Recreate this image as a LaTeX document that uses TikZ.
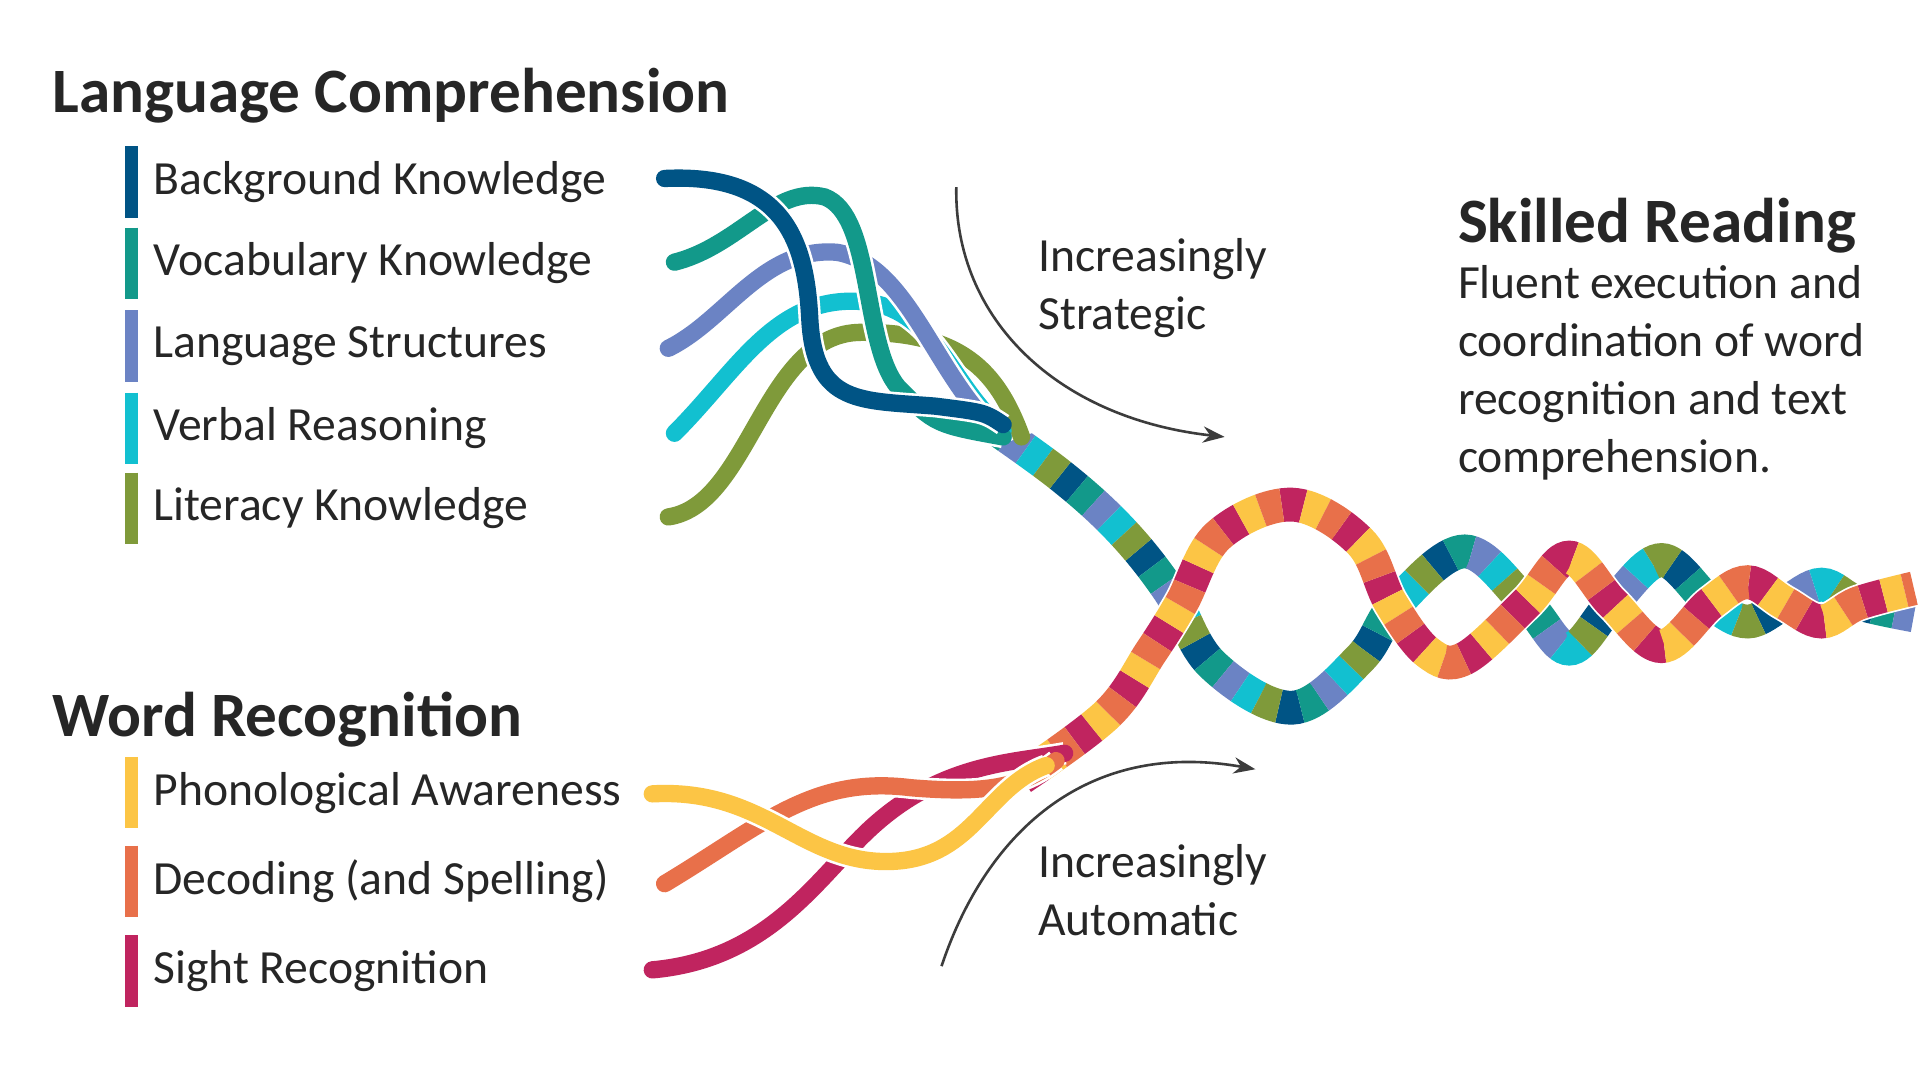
\documentclass[tikz,border=0pt]{standalone}
\usepackage{fontspec}
\setmainfont{Carlito}
\usetikzlibrary{arrows.meta,calc}
\definecolor{lcBlue}{HTML}{005485}
\definecolor{lcTeal}{HTML}{12998A}
\definecolor{lcPeri}{HTML}{6B83C4}
\definecolor{lcCyan}{HTML}{12C0D0}
\definecolor{lcOlive}{HTML}{7F9A3A}
\definecolor{wrYellow}{HTML}{FCC545}
\definecolor{wrOrange}{HTML}{E8704A}
\definecolor{wrMagenta}{HTML}{C0245F}
\definecolor{txt}{HTML}{262626}
\tikzset{
  heading/.style={font=\fontsize{14.6pt}{18pt}\selectfont\bfseries,text=txt,anchor=west,inner sep=0pt},
  item/.style={font=\fontsize{11pt}{13pt}\selectfont,text=txt,anchor=west,inner sep=0pt},
  bar/.style={line width=3pt},
  strand/.style={line width=4pt,line cap=round,draw=#1,
    preaction={draw=white,line width=5.2pt}},
  trend/.style={-{Stealth[length=5pt]},line width=0.6pt,draw=txt!90},
}
% rope of coloured segments
\newcommand\drawrope[3]{%
  \draw[line width=8.6pt,draw=white] plot[smooth,tension=0.6] coordinates {#3};
  \foreach \c [count=\i] in {#1}{%
    \draw[line width=7.8pt,draw=\c,dash pattern=on 5pt off {(#2-1)*5pt},dash phase={-(\i-1)*5pt}]
      plot[smooth,tension=0.6] coordinates {#3};}}

\begin{document}
\begin{tikzpicture}[x=0.01cm,y=-0.01cm]
\useasboundingbox[fill=white] (0,0) rectangle (1560,878);

% headings and items
\node[heading] (lc) at (42,78) {Language Comprehension};
\node[heading] (wr) at (42,585) {Word Recognition};
\foreach \y/\c/\t [count=\n] in {148/lcBlue/Background Knowledge,214/lcTeal/Vocabulary Knowledge,
  281/lcPeri/Language Structures,348/lcCyan/Verbal Reasoning,413/lcOlive/Literacy Knowledge,
  644/wrYellow/Phonological Awareness,716/wrOrange/Decoding (and Spelling),789/wrMagenta/Sight Recognition}{
  \draw[bar,\c] (107,\y-29) -- (107,\y+29);
  \node[item] (it\n) at (124,\y) {\t};
}

% ropes
\drawrope{lcBlue,lcTeal,lcPeri,lcCyan,lcOlive}{5}{(790,335) (860,385) (910,430) (950,480) (985,540) (1050,575) (1105,535) (1135,490) (1190,448) (1240,490) (1275,527) (1310,490) (1350,455) (1390,490) (1420,505) (1450,490) (1480,475) (1510,490) (1555,500)}
\drawrope{wrMagenta,wrYellow,wrOrange}{3}{(830,632) (900,580) (935,530) (960,490) (990,435) (1050,410) (1105,440) (1130,490) (1160,530) (1190,535) (1240,490) (1275,453) (1310,490) (1350,525) (1390,490) (1420,473) (1450,490) (1480,505) (1510,490) (1555,478)}

% single strands
\draw[strand=lcOlive] (543,420) .. controls (610,410) and (620,270) .. (700,270) .. controls (780,270) and (810,300) .. (830,355);
\draw[strand=lcCyan] (548,352) .. controls (600,300) and (630,240) .. (700,245) .. controls (760,250) and (770,310) .. (815,350);
\draw[strand=lcPeri] (543,283) .. controls (590,260) and (620,200) .. (680,205) .. controls (740,215) and (760,310) .. (815,355);
\draw[strand=lcTeal] (548,213) .. controls (600,200) and (630,150) .. (670,160) .. controls (710,175) and (700,280) .. (730,315) .. controls (760,345) .. (815,355);
\draw[strand=lcBlue] (540,145) .. controls (640,140) and (655,200) .. (658,260) .. controls (662,330) and (700,325) .. (760,330) .. controls (800,335) .. (815,345);

\draw[strand=wrMagenta] (530,788) .. controls (620,780) and (660,720) .. (700,680) .. controls (760,620) and (820,620) .. (865,612);
\draw[strand=wrOrange] (540,718) .. controls (620,670) and (660,630) .. (740,640) .. controls (800,645) and (830,640) .. (858,618);
\draw[strand=wrYellow] (530,645) .. controls (620,640) and (650,700) .. (720,700) .. controls (790,700) and (800,640) .. (850,622);

% trend arrows
\coordinate (s0) at (777,152);
\coordinate (s1) at (995,355);
\coordinate (a0) at (765,785);
\coordinate (a1) at (1020,625);
\draw[trend] (s0) .. controls (775,260) and (860,340) .. (s1);
\draw[trend] (a0) .. controls (800,680) and (880,600) .. (a1);
\node[item,anchor=north west,align=left,font=\fontsize{11pt}{13.4pt}\selectfont] (strat) at (843,193) {Increasingly\\Strategic};
\node[item,anchor=north west,align=left,font=\fontsize{11pt}{13.4pt}\selectfont] (auto) at (843,685) {Increasingly\\Automatic};

% skilled reading
\node[heading] (sr) at (1184,183) {Skilled Reading};
\node[item,anchor=north west,align=left,font=\fontsize{11pt}{13.4pt}\selectfont] (srtext) at (1184,215)
  {Fluent execution and\\coordination of word\\recognition and text\\comprehension.};
\end{tikzpicture}
\end{document}
